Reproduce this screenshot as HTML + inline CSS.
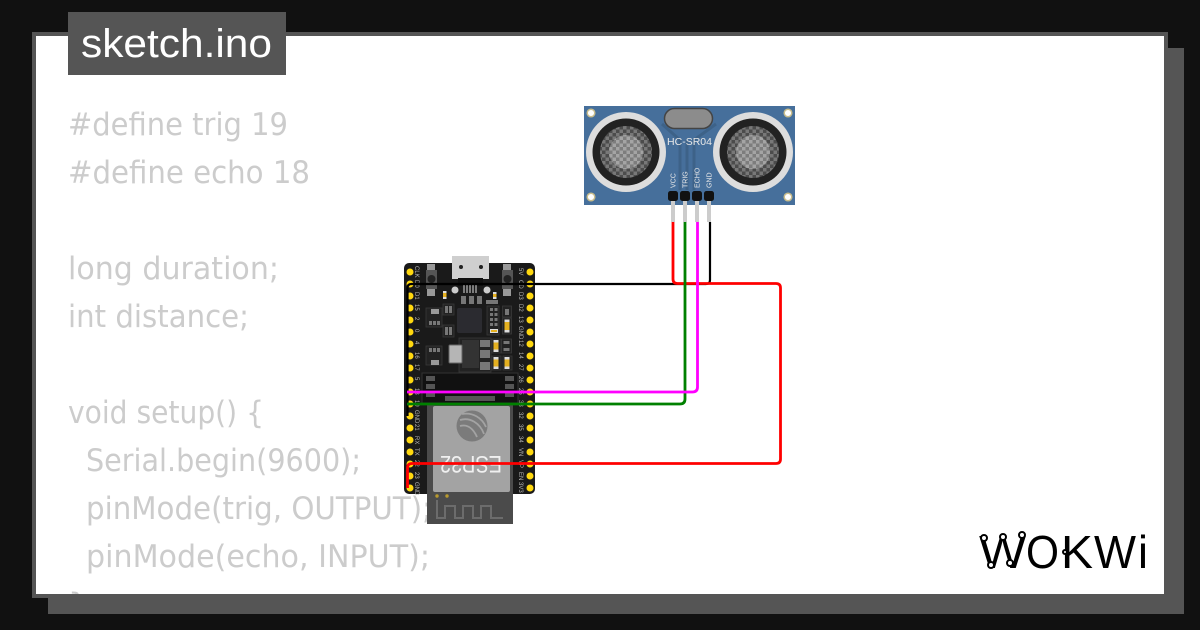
<!DOCTYPE html>
<html><head><meta charset="utf-8"><title>sketch.ino</title>
<style>html,body{margin:0;padding:0;background:#111;width:1200px;height:630px;overflow:hidden}svg{display:block}
.c{font-family:"DejaVu Sans",sans-serif;font-size:31px;fill:#ccc}
.l{font-family:"Liberation Sans",sans-serif;font-size:6px;fill:#b5b5b5}
.w{font-family:"Liberation Sans",sans-serif;font-size:46px;fill:#000}</style></head><body>
<svg width="1200" height="630" viewBox="0 0 1200 630" xmlns="http://www.w3.org/2000/svg">
<defs>
<pattern id="ck" width="7" height="7" patternUnits="userSpaceOnUse"><rect width="7" height="7" fill="#4c4c4c"/><rect width="3.500" height="3.500" fill="#787878"/><rect x="3.500" y="3.500" width="3.500" height="3.500" fill="#787878"/></pattern>
<pattern id="ck2" width="7" height="7" patternUnits="userSpaceOnUse"><rect width="7" height="7" fill="#7d7d7d"/><rect width="3.500" height="3.500" fill="#a4a4a4"/><rect x="3.500" y="3.500" width="3.500" height="3.500" fill="#a4a4a4"/></pattern>
<clipPath id="pg"><rect x="36" y="36" width="1128" height="558"/></clipPath>
</defs>
<rect width="1200" height="630" fill="#111"/>
<rect x="48" y="48" width="1136" height="566" fill="#555"/>
<rect x="34" y="34" width="1132" height="562" fill="#fff" stroke="#555" stroke-width="4"/>
<g clip-path="url(#pg)">
<text class="c" x="68" y="135" textLength="220" lengthAdjust="spacingAndGlyphs">#define trig 19</text>
<text class="c" x="68" y="183" textLength="242" lengthAdjust="spacingAndGlyphs">#define echo 18</text>
<text class="c" x="68" y="279" textLength="211" lengthAdjust="spacingAndGlyphs">long duration;</text>
<text class="c" x="68" y="327" textLength="181" lengthAdjust="spacingAndGlyphs">int distance;</text>
<text class="c" x="68" y="423" textLength="196" lengthAdjust="spacingAndGlyphs">void setup() {</text>
<text class="c" x="86" y="471" textLength="275" lengthAdjust="spacingAndGlyphs">Serial.begin(9600);</text>
<text class="c" x="86" y="519" textLength="346" lengthAdjust="spacingAndGlyphs">pinMode(trig, OUTPUT);</text>
<text class="c" x="86" y="567" textLength="344" lengthAdjust="spacingAndGlyphs">pinMode(echo, INPUT);</text>
<text class="c" x="68" y="615">}</text>
</g>
<rect x="68" y="12" width="218" height="63" fill="#555"/>
<text x="81" y="57" font-family="'Liberation Sans',sans-serif" font-size="40" fill="#fff" textLength="191" lengthAdjust="spacingAndGlyphs">sketch.ino</text>

<!-- Sensor -->
<rect x="584" y="106" width="211" height="99" fill="#466f9b"/>
<g fill="none" stroke="#3d6288" stroke-width="3"><path d="M662 124 L680 140V190"/><path d="M716 124 L694 140V190"/><path d="M687 140V190"/></g>
<g fill="#fff" stroke="#c9bd8c" stroke-width="1.500"><circle cx="591" cy="113" r="3.800"/><circle cx="788" cy="113" r="3.800"/><circle cx="591" cy="197" r="3.800"/><circle cx="788" cy="197" r="3.800"/></g>
<circle cx="626" cy="152" r="40" fill="#ddd"/><circle cx="626" cy="152" r="33.500" fill="#222"/><circle cx="626" cy="152" r="26" fill="url(#ck)"/><circle cx="626" cy="152" r="17" fill="url(#ck2)"/>
<circle cx="753" cy="152" r="40" fill="#ddd"/><circle cx="753" cy="152" r="33.500" fill="#222"/><circle cx="753" cy="152" r="26" fill="url(#ck)"/><circle cx="753" cy="152" r="17" fill="url(#ck2)"/>
<rect x="664.500" y="108.500" width="48" height="20" rx="10" fill="#8c8c8c" stroke="#444" stroke-width="1.500"/>
<text x="667" y="145" font-family="'Liberation Sans',sans-serif" font-size="10.500" fill="#e8e8e8" textLength="45">HC-SR04</text>
<g font-family="'Liberation Sans',sans-serif" font-size="7" fill="#e8e8e8">
<text transform="translate(675.500,188) rotate(-90)">VCC</text>
<text transform="translate(687.500,188) rotate(-90)">TRIG</text>
<text transform="translate(699.500,188) rotate(-90)">ECHO</text>
<text transform="translate(711.500,188) rotate(-90)">GND</text>
</g>
<g fill="#ccc"><rect x="671" y="200" width="4" height="22"/><rect x="683" y="200" width="4" height="22"/><rect x="695" y="200" width="4" height="22"/><rect x="707" y="200" width="4" height="22"/></g>
<g fill="#111"><rect x="668" y="191" width="10" height="10" rx="2.500"/><rect x="680" y="191" width="10" height="10" rx="2.500"/><rect x="692" y="191" width="10" height="10" rx="2.500"/><rect x="704" y="191" width="10" height="10" rx="2.500"/></g>

<!-- ESP32 board -->
<rect x="404" y="263" width="131" height="231" rx="5" fill="#1a1a1a"/>
<rect x="452" y="256" width="37" height="23" fill="#cfcfcf"/><circle cx="461" cy="267" r="2" fill="#222"/><circle cx="481" cy="267" r="2" fill="#222"/><rect x="458" y="278" width="25" height="8" fill="#111"/>
<circle cx="455" cy="290" r="3.500" fill="#ccc"/><circle cx="487" cy="290" r="3.500" fill="#ccc"/>
<path d="M464 285v8M467 285v8M470 285v8M473 285v8M476 285v8" stroke="#ddd" stroke-width="1"/>
<g fill="#999"><rect x="427" y="264" width="8" height="6"/><rect x="427" y="289" width="8" height="7"/><rect x="503" y="264" width="8" height="6"/><rect x="503" y="289" width="8" height="7"/></g>
<rect x="426" y="270" width="11" height="19" fill="#555"/><rect x="502" y="270" width="11" height="19" fill="#555"/><circle cx="431.500" cy="279" r="4" fill="#222"/><circle cx="507.500" cy="279" r="4" fill="#222"/>
<!-- chip -->
<rect x="457" y="308" width="25" height="25" rx="2" fill="#2b2b30"/>
<!-- small regs -->
<g fill="#222" stroke="#3a3a3a" stroke-width=".8"><rect x="426" y="308" width="16" height="19"/><rect x="426" y="346" width="16" height="19"/><rect x="443" y="304" width="11" height="11"/><rect x="443" y="325" width="11" height="12"/><rect x="487" y="306" width="12" height="29"/><rect x="502.500" y="306" width="9" height="11"/><rect x="502.500" y="318" width="9" height="16"/><rect x="492" y="339" width="9" height="14"/><rect x="501.500" y="339" width="10" height="14"/><rect x="492" y="356" width="9" height="14"/><rect x="503" y="356" width="9" height="14"/><rect x="459" y="338" width="32" height="34"/></g>
<g fill="#999"><rect x="431" y="309" width="8" height="5"/><rect x="431" y="360" width="8" height="5"/></g>
<g fill="#777"><rect x="429" y="321" width="3" height="4"/><rect x="433" y="321" width="3" height="4"/><rect x="437" y="321" width="3" height="4"/><rect x="429" y="348" width="3" height="4"/><rect x="433" y="348" width="3" height="4"/><rect x="437" y="348" width="3" height="4"/><rect x="445" y="306" width="3" height="7"/><rect x="449" y="306" width="3" height="7"/><rect x="445" y="327" width="3" height="8"/><rect x="449" y="327" width="3" height="8"/>
<rect x="490" y="308" width="3" height="3"/><rect x="494.500" y="308" width="3" height="3"/><rect x="490" y="313" width="3" height="3"/><rect x="494.500" y="313" width="3" height="3"/><rect x="490" y="318" width="3" height="3"/><rect x="494.500" y="318" width="3" height="3"/><rect x="490" y="323" width="3" height="3"/><rect x="494.500" y="323" width="3" height="3"/>
<rect x="505" y="309" width="4" height="6"/><rect x="503.500" y="341" width="6" height="3"/><rect x="503.500" y="348" width="6" height="3"/></g>
<rect x="462" y="340" width="17" height="28" fill="#333"/>
<g fill="#777"><rect x="480" y="340" width="10" height="7"/><rect x="480" y="350" width="10" height="8"/><rect x="480" y="362" width="10" height="8"/></g>
<rect x="449" y="345" width="13" height="18" rx="1" fill="#b5b5b5" stroke="#666"/>
<g fill="#ddd"><rect x="504.500" y="319.500" width="5" height="13"/><rect x="493.500" y="340" width="5" height="12"/><rect x="493.500" y="357" width="5" height="12"/><rect x="504.500" y="357" width="5" height="12"/><rect x="443" y="291" width="3.500" height="8"/><rect x="493" y="292" width="3.500" height="7"/><rect x="490" y="329" width="8" height="4"/></g>
<g fill="#e4b020"><rect x="504.500" y="322" width="5" height="8"/><rect x="493.500" y="342.500" width="5" height="7"/><rect x="493.500" y="359.500" width="5" height="7"/><rect x="504.500" y="359.500" width="5" height="7"/><rect x="443" y="293" width="3.500" height="4"/><rect x="493" y="294" width="3.500" height="3"/><rect x="491" y="330" width="6" height="2"/></g>
<g fill="#777"><rect x="461" y="296" width="5" height="8"/><rect x="469" y="296" width="5" height="8"/><rect x="477" y="296" width="5" height="8"/><rect x="486" y="300" width="12" height="4"/></g>
<!-- module -->
<rect x="422" y="373" width="96" height="30" fill="#111" stroke="#333"/>
<g fill="#555"><rect x="426" y="376" width="9" height="5"/><rect x="426" y="384" width="9" height="5"/><rect x="426" y="392" width="9" height="5"/><rect x="505" y="376" width="9" height="5"/><rect x="505" y="384" width="9" height="5"/><rect x="505" y="392" width="9" height="5"/><rect x="445" y="396" width="50" height="5"/></g>
<rect x="427" y="403" width="86" height="121" fill="#4b4b4b"/>
<rect x="433" y="406" width="77" height="86" rx="2" fill="#a3a3a3"/>
<circle cx="472" cy="426" r="15.500" fill="#7b7b7b"/>
<path d="M460 420c10-3 20 3 24 14M460 426c7-2 13 2 17 11M462 414c11-2 20 4 24 13" fill="none" stroke="#a3a3a3" stroke-width="1.800"/>
<text transform="translate(502,456) rotate(180)" font-family="'Liberation Sans',sans-serif" font-size="24" fill="#f0f0f0" textLength="62" lengthAdjust="spacingAndGlyphs">ESP32</text>
<circle cx="437" cy="496" r="1.700" fill="#b89a2e"/><circle cx="447" cy="496" r="1.700" fill="#b89a2e"/>
<path d="M437 500v18h8v-12h10v12h8v-12h10v12h8v-12h10v12h12" fill="none" stroke="#6c6c6c" stroke-width="2"/>

<g fill="#ffd80f">
<circle cx="410" cy="272" r="3.500"/><circle cx="410" cy="284" r="3.500"/><circle cx="410" cy="296" r="3.500"/><circle cx="410" cy="308" r="3.500"/><circle cx="410" cy="320" r="3.500"/><circle cx="410" cy="332" r="3.500"/><circle cx="410" cy="344" r="3.500"/><circle cx="410" cy="356" r="3.500"/><circle cx="410" cy="368" r="3.500"/><circle cx="410" cy="380" r="3.500"/><circle cx="410" cy="392" r="3.500"/><circle cx="410" cy="404" r="3.500"/><circle cx="410" cy="416" r="3.500"/><circle cx="410" cy="428" r="3.500"/><circle cx="410" cy="440" r="3.500"/><circle cx="410" cy="452" r="3.500"/><circle cx="410" cy="464" r="3.500"/><circle cx="410" cy="476" r="3.500"/><circle cx="410" cy="488" r="3.500"/>
<circle cx="530" cy="272" r="3.500"/><circle cx="530" cy="284" r="3.500"/><circle cx="530" cy="296" r="3.500"/><circle cx="530" cy="308" r="3.500"/><circle cx="530" cy="320" r="3.500"/><circle cx="530" cy="332" r="3.500"/><circle cx="530" cy="344" r="3.500"/><circle cx="530" cy="356" r="3.500"/><circle cx="530" cy="368" r="3.500"/><circle cx="530" cy="380" r="3.500"/><circle cx="530" cy="392" r="3.500"/><circle cx="530" cy="404" r="3.500"/><circle cx="530" cy="416" r="3.500"/><circle cx="530" cy="428" r="3.500"/><circle cx="530" cy="440" r="3.500"/><circle cx="530" cy="452" r="3.500"/><circle cx="530" cy="464" r="3.500"/><circle cx="530" cy="476" r="3.500"/><circle cx="530" cy="488" r="3.500"/>
</g>
<g>
<text class="l" transform="translate(415,266) rotate(90)">CLK</text><text class="l" transform="translate(415,280) rotate(90)">D0</text><text class="l" transform="translate(415,292) rotate(90)">D1</text><text class="l" transform="translate(415,304) rotate(90)">15</text><text class="l" transform="translate(415,317) rotate(90)">2</text><text class="l" transform="translate(415,329) rotate(90)">0</text><text class="l" transform="translate(415,341) rotate(90)">4</text><text class="l" transform="translate(415,352) rotate(90)">16</text><text class="l" transform="translate(415,364) rotate(90)">17</text><text class="l" transform="translate(415,377) rotate(90)">5</text><text class="l" transform="translate(415,388) rotate(90)">18</text><text class="l" transform="translate(415,400) rotate(90)">19</text><text class="l" transform="translate(415,410) rotate(90)">GND</text><text class="l" transform="translate(415,424) rotate(90)">21</text><text class="l" transform="translate(415,436) rotate(90)">RX</text><text class="l" transform="translate(415,448) rotate(90)">TX</text><text class="l" transform="translate(415,460) rotate(90)">22</text><text class="l" transform="translate(415,472) rotate(90)">23</text><text class="l" transform="translate(415,482) rotate(90)">GND</text>
<text class="l" transform="translate(519,268) rotate(90)">5V</text><text class="l" transform="translate(519,280) rotate(90)">CD</text><text class="l" transform="translate(519,292) rotate(90)">D3</text><text class="l" transform="translate(519,304) rotate(90)">D2</text><text class="l" transform="translate(519,316) rotate(90)">13</text><text class="l" transform="translate(519,326) rotate(90)">GND</text><text class="l" transform="translate(519,340) rotate(90)">12</text><text class="l" transform="translate(519,352) rotate(90)">14</text><text class="l" transform="translate(519,364) rotate(90)">27</text><text class="l" transform="translate(519,376) rotate(90)">26</text><text class="l" transform="translate(519,388) rotate(90)">25</text><text class="l" transform="translate(519,400) rotate(90)">33</text><text class="l" transform="translate(519,412) rotate(90)">32</text><text class="l" transform="translate(519,424) rotate(90)">35</text><text class="l" transform="translate(519,436) rotate(90)">34</text><text class="l" transform="translate(519,448) rotate(90)">VN</text><text class="l" transform="translate(519,460) rotate(90)">VP</text><text class="l" transform="translate(519,472) rotate(90)">EN</text><text class="l" transform="translate(519,482) rotate(90)">3V3</text>
</g>

<!-- Wires -->
<g fill="none">
<path d="M407.500 416V288q0-4 4-4H706q4 0 4-4V222" stroke="#000" stroke-width="2.200"/>
<path d="M673 222V279q0 4.500 4.500 4.500H776q4.500 0 4.500 4.500V459q0 4.500-4.500 4.500H412q-4.500 0-4.500 4.500V488" stroke="#f00" stroke-width="2.800"/>
<path d="M685 222V399q0 5-5 5H407" stroke="#008000" stroke-width="2.800"/>
<path d="M697.500 222V387q0 5-5 5H407" stroke="#f0f" stroke-width="2.800"/>
</g>

<!-- Logo -->
<g class="w">
<text class="w" x="979" y="568" textLength="47" lengthAdjust="spacingAndGlyphs">W</text>
<text class="w" x="1026" y="568" textLength="33" lengthAdjust="spacingAndGlyphs">O</text>
<text class="w" x="1061" y="568" textLength="32" lengthAdjust="spacingAndGlyphs">K</text>
<text class="w" x="1094" y="568" textLength="42" lengthAdjust="spacingAndGlyphs">W</text>
<text class="w" x="1138" y="568" textLength="10" lengthAdjust="spacingAndGlyphs">i</text>
</g>
<g fill="#fff" stroke="#000" stroke-width="2"><circle cx="984" cy="538" r="3"/><circle cx="1003" cy="537" r="3"/><circle cx="1022" cy="535" r="3"/><circle cx="991" cy="565" r="3"/><circle cx="1010" cy="563" r="3"/><circle cx="1065" cy="552" r="2"/></g>
</svg>
</body></html>
